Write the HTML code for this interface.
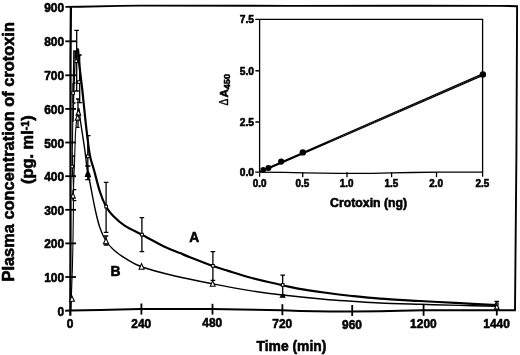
<!DOCTYPE html>
<html lang="en">
<head>
<meta charset="utf-8">
<title>Plasma concentration of crotoxin</title>
<style>
html,body{margin:0;padding:0;background:#fff;}
body{width:520px;height:355px;overflow:hidden;}
svg{display:block;}
svg text{font-family:"Liberation Sans", Arial, Helvetica, sans-serif;fill:#000;stroke:#000;stroke-width:0.6px;stroke-linejoin:round;}
</style>
</head>
<body>
<svg width="520" height="355" viewBox="0 0 520 355">
<rect x="0" y="0" width="520" height="355" fill="#fff"/>
<g fill="none" stroke="#000" stroke-linecap="butt" stroke-linejoin="miter">
<path stroke-width="1.9" d="M65.4,6.9 L80,6.8 L120,5.9 L140,5.6 L290,5.85 L420,5.7 L500,5.85 L517.1,6.2 L516.4,156 L515,310.1"/>
<path stroke-width="2.0" d="M65.2,310.7 L70,310.6 L100,310 L120,309.4 L141,309.0 L170,309.1 L212,309.1 L240,309.6 L282,310.3 L300,310.9 L330,311.4 L352,311.5 L380,311.2 L400,310.7 L423,310.2 L460,310.2 L500,310.3 L515.9,310.2"/>
<path stroke-width="2.25" d="M70.9,6.2 L70.5,60 L70.5,230 L70.3,315.8"/>
<path stroke-width="1.8" d="M65.3,277.0 H76"/>
<path stroke-width="1.8" d="M65.3,243.4 H76"/>
<path stroke-width="1.8" d="M65.3,209.8 H76"/>
<path stroke-width="1.8" d="M65.3,176.2 H76"/>
<path stroke-width="1.8" d="M65.3,142.5 H76"/>
<path stroke-width="1.8" d="M65.3,108.9 H76"/>
<path stroke-width="1.8" d="M65.3,75.3 H76"/>
<path stroke-width="1.8" d="M65.3,41.3 H76"/>
<path stroke-width="1.8" d="M141.4,303.5 V314.6"/>
<path stroke-width="1.8" d="M212.5,303.8 V314.6"/>
<path stroke-width="1.8" d="M282.4,304.2 V315.2"/>
<path stroke-width="1.8" d="M352.2,305 V316"/>
<path stroke-width="1.8" d="M423.6,304.3 V315.8"/>
<path stroke-width="1.8" d="M496.8,304.4 V315.5"/>
</g>
<text transform="translate(64.1,315.8) scale(0.885,1)" font-size="13.5" font-weight="bold" text-anchor="end" >0</text>
<text transform="translate(64.1,282.0) scale(0.885,1)" font-size="13.5" font-weight="bold" text-anchor="end" >100</text>
<text transform="translate(64.1,248.4) scale(0.885,1)" font-size="13.5" font-weight="bold" text-anchor="end" >200</text>
<text transform="translate(64.1,214.7) scale(0.885,1)" font-size="13.5" font-weight="bold" text-anchor="end" >300</text>
<text transform="translate(64.1,181.1) scale(0.885,1)" font-size="13.5" font-weight="bold" text-anchor="end" >400</text>
<text transform="translate(64.1,147.5) scale(0.885,1)" font-size="13.5" font-weight="bold" text-anchor="end" >500</text>
<text transform="translate(64.1,113.9) scale(0.885,1)" font-size="13.5" font-weight="bold" text-anchor="end" >600</text>
<text transform="translate(64.1,80.3) scale(0.885,1)" font-size="13.5" font-weight="bold" text-anchor="end" >700</text>
<text transform="translate(64.1,46.2) scale(0.885,1)" font-size="13.5" font-weight="bold" text-anchor="end" >800</text>
<text transform="translate(64.1,11.9) scale(0.885,1)" font-size="13.5" font-weight="bold" text-anchor="end" >900</text>
<text transform="translate(70.1,328.0) scale(0.885,1)" font-size="13.5" font-weight="bold" text-anchor="middle" >0</text>
<text transform="translate(141.2,327.5) scale(0.885,1)" font-size="13.5" font-weight="bold" text-anchor="middle" >240</text>
<text transform="translate(212.3,327.4) scale(0.885,1)" font-size="13.5" font-weight="bold" text-anchor="middle" >480</text>
<text transform="translate(282.2,328.2) scale(0.885,1)" font-size="13.5" font-weight="bold" text-anchor="middle" >720</text>
<text transform="translate(352.0,328.6) scale(0.885,1)" font-size="13.5" font-weight="bold" text-anchor="middle" >960</text>
<text transform="translate(423.4,327.9) scale(0.885,1)" font-size="13.5" font-weight="bold" text-anchor="middle" >1200</text>
<text transform="translate(496.6,328.2) scale(0.885,1)" font-size="13.5" font-weight="bold" text-anchor="middle" >1440</text>
<text transform="translate(291.4,350.9) scale(0.925,1)" font-size="15.0" font-weight="bold" text-anchor="middle" >Time (min)</text>
<text transform="translate(14.3,281.5) rotate(-90) scale(1,0.98)" font-size="16.4" font-weight="bold" text-anchor="start">Plasma concentration of crotoxin</text>
<text transform="translate(33.3,184) rotate(-90) scale(1,0.95)" font-size="16.4" font-weight="bold" text-anchor="start">(pg. ml<tspan font-size="10.6" dy="-4.8">-1</tspan><tspan dy="4.8">)</tspan></text>
<path d="M70.9,310.0 L71.6,290.0 L72.4,268.0 L73.0,240.0 L73.4,210.0 L73.5,190.0 L73.1,176.0 L72.3,166.0 L72.3,150.0 L72.6,134.0 L73.1,93.0 L73.6,62.0 L73.8,51.0" fill="none" stroke="#000" stroke-width="1.1" stroke-linejoin="round"/>
<path d="M73.0,122 L73.7,94 L74.7,70 L75.5,51" fill="none" stroke="#000" stroke-width="1.3"/>
<path d="M77.90,48.90 C77.97,49.42 78.18,50.48 78.30,52.00 C78.42,53.52 78.53,56.67 78.60,58.00 C78.67,59.33 78.08,54.67 78.70,60.00 C79.32,65.33 81.18,80.00 82.30,90.00 C83.42,100.00 84.28,110.00 85.40,120.00 C86.52,130.00 88.07,143.33 89.00,150.00 C89.93,156.67 90.17,156.67 91.00,160.00 C91.83,163.33 92.50,164.67 94.00,170.00 C95.50,175.33 98.00,185.92 100.00,192.00 C102.00,198.08 103.83,202.55 106.00,206.50 C108.17,210.45 109.83,212.47 113.00,215.70 C116.17,218.93 120.18,222.73 125.00,225.90 C129.82,229.07 135.40,231.28 141.90,234.70 C148.40,238.12 157.65,243.33 164.00,246.40 C170.35,249.47 175.67,251.30 180.00,253.10 C184.33,254.90 184.52,255.05 190.00,257.20 C195.48,259.35 206.57,263.72 212.90,266.00 C219.23,268.28 221.82,268.98 228.00,270.90 C234.18,272.82 240.88,275.12 250.00,277.50 C259.12,279.88 274.70,283.35 282.70,285.20 C290.70,287.05 291.12,287.38 298.00,288.60 C304.88,289.82 315.00,291.27 324.00,292.50 C333.00,293.73 342.67,294.97 352.00,296.00 C361.33,297.03 368.67,297.87 380.00,298.70 C391.33,299.53 406.67,300.25 420.00,301.00 C433.33,301.75 447.20,302.50 460.00,303.20 C472.80,303.90 490.67,304.87 496.80,305.20" fill="none" stroke="#000" stroke-width="2.2" stroke-linejoin="round"/>
<path d="M73.6,58.5 L73.6,51.4 L76.1,51.2 L76.2,49.3 L78.3,49.3 L78.9,58.5 Z" fill="#000" fill-opacity="0.62"/>
<path d="M73.4,51 H76.3 M76.1,49.1 H78.5" fill="none" stroke="#000" stroke-width="1.5"/>
<path d="M73.4,192.0 L73.6,185.0 L74.4,165.0 L75.4,134.0 L76.2,124.0 L77.5,113.0 L78.8,108.6" fill="none" stroke="#000" stroke-width="1.1" stroke-linejoin="round"/>
<path d="M77.80,111.00 C77.97,110.57 78.50,108.07 78.80,108.40 C79.10,108.73 79.35,111.07 79.60,113.00 C79.85,114.93 79.43,113.83 80.30,120.00 C81.17,126.17 83.55,140.92 84.80,150.00 C86.05,159.08 87.00,169.33 87.80,174.50 C88.60,179.67 88.35,175.08 89.60,181.00 C90.85,186.92 93.57,202.17 95.30,210.00 C97.03,217.83 98.22,222.83 100.00,228.00 C101.78,233.17 103.78,237.43 106.00,241.00 C108.22,244.57 110.13,246.53 113.30,249.40 C116.47,252.27 120.22,255.27 125.00,258.20 C129.78,261.13 133.67,264.03 142.00,267.00 C150.33,269.97 163.17,273.18 175.00,276.00 C186.83,278.82 200.50,281.47 213.00,283.90 C225.50,286.33 238.38,288.75 250.00,290.60 C261.62,292.45 270.37,293.57 282.70,295.00 C295.03,296.43 312.45,298.17 324.00,299.20 C335.55,300.23 342.67,300.57 352.00,301.20 C361.33,301.83 368.67,302.48 380.00,303.00 C391.33,303.52 406.67,303.90 420.00,304.30 C433.33,304.70 447.20,305.07 460.00,305.40 C472.80,305.73 490.67,306.15 496.80,306.30" fill="none" stroke="#000" stroke-width="1.4" stroke-linejoin="round"/>
<path d="M76.7,30.4 V91.0 M74.3,30.4 H78.9 M74.3,91.0 H78.9" fill="none" stroke="#000" stroke-width="1.3"/>
<path d="M79.7,55.0 V102.6 M78.9,55.0 H81.7 M78.9,102.6 H81.7" fill="none" stroke="#000" stroke-width="1.3"/>
<path d="M76.6,102.6 H82.4" stroke="#000" stroke-width="0.9"/>
<path d="M87.8,135.6 V177.0 M87.8,135.6 H90.5 M87.8,177.0 H90.5" fill="none" stroke="#000" stroke-width="1.3"/>
<path d="M106.1,182.3 V232.3 M103.8,182.3 H108.4 M103.8,232.3 H108.4" fill="none" stroke="#000" stroke-width="1.3"/>
<path d="M141.9,217.7 V251.6 M139.6,217.7 H144.2 M139.6,251.6 H144.2" fill="none" stroke="#000" stroke-width="1.3"/>
<path d="M212.9,251.6 V280.3 M210.6,251.6 H215.2 M210.6,280.3 H215.2" fill="none" stroke="#000" stroke-width="1.3"/>
<path d="M282.7,275.2 V295.0 M280.4,275.2 H285.0 M280.4,295.0 H285.0" fill="none" stroke="#000" stroke-width="1.3"/>
<path d="M72.6,156.0 V176.0 M72.6,156.0 H75.1 M72.6,176.0 H75.1" fill="none" stroke="#000" stroke-width="1.3"/>
<path d="M73.0,83.0 V103.0 M73.0,83.0 H75.5 M73.0,103.0 H75.5" fill="none" stroke="#000" stroke-width="1.3"/>
<path d="M73.0,189.7 V200.7 M73.0,189.7 H76.4 M73.0,200.7 H76.4" fill="none" stroke="#000" stroke-width="1.3"/>
<path d="M78.0,99.0 V127.4 M76.0,99.0 H79.5 M76.0,127.4 H79.5" fill="none" stroke="#000" stroke-width="1.3"/>
<path d="M87.8,166.0 V179.6 M85.2,166.0 H90.4 M85.2,179.6 H90.4" fill="none" stroke="#000" stroke-width="1.3"/>
<path d="M106.0,236.0 V245.0 M103.7,236.0 H108.3 M103.7,245.0 H108.3" fill="none" stroke="#000" stroke-width="1.3"/>
<path d="M496.8,301.5 V309.0 M494.5,301.5 H499.1 M494.5,309.0 H499.1" fill="none" stroke="#000" stroke-width="1.3"/>
<rect x="70.8" y="165.2" width="2.7" height="2.7" fill="#fff" stroke="#000" stroke-width="1.0"/>
<rect x="71.7" y="91.7" width="2.7" height="2.7" fill="#fff" stroke="#000" stroke-width="1.0"/>
<rect x="74.9" y="59.9" width="2.7" height="2.7" fill="#fff" stroke="#000" stroke-width="1.0"/>
<rect x="77.6" y="80.7" width="2.7" height="2.7" fill="#fff" stroke="#000" stroke-width="1.0"/>
<rect x="86.5" y="155.0" width="2.7" height="2.7" fill="#fff" stroke="#000" stroke-width="1.0"/>
<rect x="104.8" y="205.2" width="2.7" height="2.7" fill="#fff" stroke="#000" stroke-width="1.0"/>
<rect x="140.6" y="233.3" width="2.7" height="2.7" fill="#fff" stroke="#000" stroke-width="1.0"/>
<rect x="211.6" y="264.5" width="2.7" height="2.7" fill="#fff" stroke="#000" stroke-width="1.0"/>
<rect x="281.3" y="283.6" width="2.7" height="2.7" fill="#fff" stroke="#000" stroke-width="1.0"/>
<rect x="495.4" y="303.1" width="2.7" height="2.7" fill="#fff" stroke="#000" stroke-width="1.0"/>
<path d="M71.9,296.1 L74.4,301.3 L69.4,301.3 Z" fill="#fff" stroke="#000" stroke-width="1.1" stroke-linejoin="miter"/>
<path d="M73.0,192.9 L75.3,198.1 L70.7,198.1 Z" fill="#fff" stroke="#000" stroke-width="1.1" stroke-linejoin="miter"/>
<path d="M78.4,109.9 L80.7,115.1 L76.1,115.1 Z" fill="#fff" stroke="#000" stroke-width="1.1" stroke-linejoin="miter"/>
<path d="M77.6,114.9 L79.9,120.1 L75.3,120.1 Z" fill="#fff" stroke="#000" stroke-width="1.1" stroke-linejoin="miter"/>
<path d="M87.9,170.8 L90.4,176.4 L85.4,176.4 Z" fill="#000" stroke="#000" stroke-width="1.1" stroke-linejoin="miter"/>
<circle cx="87.9" cy="174.6" r="2.3" fill="#000"/>
<path d="M106.0,238.1 L108.5,243.7 L103.5,243.7 Z" fill="#fff" stroke="#000" stroke-width="1.1" stroke-linejoin="miter"/>
<path d="M141.6,263.6 L144.1,269.2 L139.1,269.2 Z" fill="#fff" stroke="#000" stroke-width="1.1" stroke-linejoin="miter"/>
<path d="M212.7,280.9 L215.1,286.3 L210.3,286.3 Z" fill="#fff" stroke="#000" stroke-width="1.1" stroke-linejoin="miter"/>
<path d="M282.6,294.2 L284.8,297.2 L280.4,297.2 Z" fill="#000" stroke="#000" stroke-width="1.1" stroke-linejoin="miter"/>
<path d="M496.8,304.0 L499.0,309.0 L494.6,309.0 Z" fill="#fff" stroke="#000" stroke-width="1.1" stroke-linejoin="miter"/>
<text transform="translate(194.3,242.3) scale(0.95,1)" font-size="14.6" font-weight="bold" text-anchor="middle" >A</text>
<text transform="translate(115.6,276.0) scale(0.95,1)" font-size="14.6" font-weight="bold" text-anchor="middle" >B</text>
<g fill="none" stroke="#000">
<path stroke-width="1.3" d="M255.3,19.3 H482.6 V176.8 M259.6,19.3 V176.8 M255.2,172.2 L284,172.4 L304,172.9 L340,173.3 L372,173.3 L391,172.9 L412,172.5 L440,172.2 L482.6,172.1"/>
<path stroke-width="1.3" d="M302.7,172.3 V177.2"/>
<path stroke-width="1.3" d="M347.0,172.3 V177.2"/>
<path stroke-width="1.3" d="M391.6,172.3 V177.2"/>
<path stroke-width="1.3" d="M436.5,172.3 V177.2"/>
<path stroke-width="1.5" d="M255.4,122.0 H259.8"/>
<path stroke-width="1.5" d="M255.4,70.8 H259.8"/>
</g>
<text transform="translate(259.5,187.4) scale(0.95,1)" font-size="10.4" font-weight="bold" text-anchor="middle" >0.0</text>
<text transform="translate(302.4,187.4) scale(0.95,1)" font-size="10.4" font-weight="bold" text-anchor="middle" >0.5</text>
<text transform="translate(346.7,187.4) scale(0.95,1)" font-size="10.4" font-weight="bold" text-anchor="middle" >1.0</text>
<text transform="translate(391.3,187.4) scale(0.95,1)" font-size="10.4" font-weight="bold" text-anchor="middle" >1.5</text>
<text transform="translate(436.2,187.4) scale(0.95,1)" font-size="10.4" font-weight="bold" text-anchor="middle" >2.0</text>
<text transform="translate(482.3,187.4) scale(0.95,1)" font-size="10.4" font-weight="bold" text-anchor="middle" >2.5</text>
<text transform="translate(254.0,175.9) scale(0.97,1)" font-size="10.6" font-weight="bold" text-anchor="end" >0.0</text>
<text transform="translate(254.0,125.8) scale(0.97,1)" font-size="10.6" font-weight="bold" text-anchor="end" >2.5</text>
<text transform="translate(254.0,74.5) scale(0.97,1)" font-size="10.6" font-weight="bold" text-anchor="end" >5.0</text>
<text transform="translate(254.0,23.1) scale(0.97,1)" font-size="10.6" font-weight="bold" text-anchor="end" >7.5</text>
<text transform="translate(368.6,206.7) scale(0.96,1)" font-size="12.8" font-weight="bold" text-anchor="middle" >Crotoxin (ng)</text>
<text transform="translate(227.9,105.6) rotate(-90) scale(0.85,1)" font-size="12" font-weight="normal" text-anchor="start" style="stroke-width:0.4px">&#916;</text>
<text transform="translate(227.9,97.4) rotate(-90)" font-size="11.6" font-weight="bold" text-anchor="start">A</text>
<text transform="translate(230.2,89.3) rotate(-90) scale(1,0.9)" font-size="9.3" font-weight="bold" text-anchor="start">450</text>
<path d="M260.72,172.76 L483.60,75.87 L482.40,73.13 L259.88,170.84 Z" fill="#000"/>
<path d="M330,141.35 L483,74.5" stroke="#fff" stroke-opacity="0.55" stroke-width="0.7" stroke-linecap="round" stroke-dasharray="0.01 2.1" fill="none"/>
<circle cx="263.2" cy="169.9" r="2.8" fill="#000"/>
<circle cx="268.4" cy="167.9" r="3.0" fill="#000"/>
<circle cx="281.2" cy="161.6" r="3.1" fill="#000"/>
<circle cx="302.8" cy="152.4" r="3.2" fill="#000"/>
<circle cx="482.9" cy="74.4" r="3.2" fill="#000"/>
</svg>
</body>
</html>
